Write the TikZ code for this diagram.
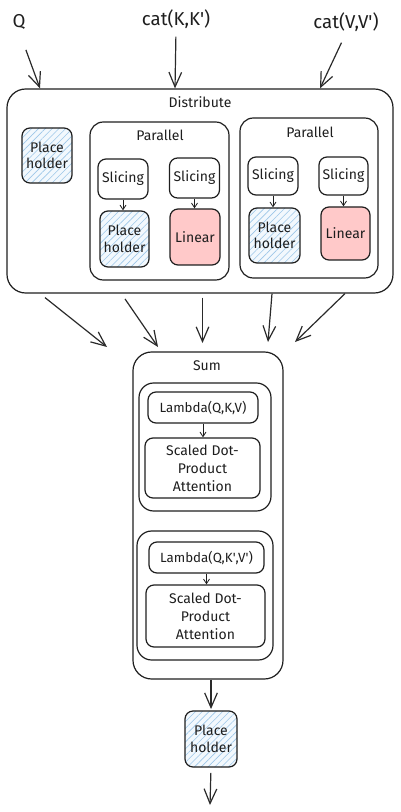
\documentclass[tikz,border=0pt]{standalone}
\usepackage{fontspec}
\setmainfont{Fira Sans}
\usetikzlibrary{arrows.meta,patterns.meta}
\definecolor{ink}{HTML}{1E1E1E}
\definecolor{hatch}{HTML}{9CC6E8}
\definecolor{phbg}{HTML}{F2F8FD}
\definecolor{linfill}{HTML}{FFC9C9}
\definecolor{arrowink}{HTML}{2A2A2A}
\tikzset{
  px/.style 2 args={minimum width=#1*0.75pt, minimum height=#2*0.75pt},
  box/.style={draw=ink, line width=0.9pt, rounded corners=6pt, inner sep=0pt,
    align=center, text=ink, font=\fontsize{10.5}{12.5}\selectfont},
  phbox/.style={box, preaction={fill=phbg},
    pattern={Lines[angle=45,distance=3.6pt,line width=0.45pt]}, pattern color=hatch},
  linbox/.style={box, fill=linfill},
  container/.style={draw=ink, line width=0.9pt, rounded corners=#1, inner sep=0pt},
  title/.style={text=ink, font=\fontsize{10.5}{12}\selectfont, inner sep=1pt},
  biglabel/.style={text=ink, font=\fontsize{14}{16}\selectfont, inner sep=1pt},
  bigarr/.style={draw=arrowink, line width=0.9pt,
    -{Straight Barb[length=11pt,width=9.5pt,line width=0.9pt]}},
  smallarr/.style={draw=ink, line width=0.6pt,
    -{Straight Barb[length=3.5pt,width=4.5pt,line width=0.6pt]}}
}
\begin{document}
\begin{tikzpicture}[x=0.75pt,y=-0.75pt]
\useasboundingbox (0,0) rectangle (400,812);

% input labels
\node[biglabel] (q) at (19,22) {Q};
\node[biglabel] (catk) at (176,19) {cat(K,K\textquotesingle)};
\node[biglabel] (catv) at (346,22) {cat(V,V\textquotesingle)};

% Distribute container
\node[container=14pt, px={386}{204}] (dist) at (200,191) {};
\node[title] (disttitle) at (200,102) {Distribute};

\node[phbox, px={50}{55}] (ph0) at (47,155.5) {Place\\holder};

% Parallel 1
\node[container=10pt, px={139}{158}] (par1) at (159.5,201) {};
\node[title] (par1title) at (160,135) {Parallel};
\node[box, px={50}{40}] (sl1) at (123,179) {Slicing};
\node[box, px={50}{40}] (sl2) at (194.5,178) {Slicing};
\node[phbox, px={49}{56}] (ph1) at (124.5,239) {Place\\holder};
\node[linbox, px={50}{56}] (lin1) at (195,237) {Linear};

% Parallel 2
\node[container=10pt, px={138}{160}] (par2) at (309,198) {};
\node[title] (par2title) at (310,132) {Parallel};
\node[box, px={50}{38}] (sl3) at (273,176) {Slicing};
\node[box, px={49}{38}] (sl4) at (343.5,176) {Slicing};
\node[phbox, px={51}{55}] (ph2) at (274.5,235.5) {Place\\holder};
\node[linbox, px={49}{53}] (lin2) at (345.5,233.5) {Linear};

% Sum container
\node[container=14pt, px={150}{327}] (sum) at (208,515.5) {};
\node[title] (sumtitle) at (207,366) {Sum};

\node[container=11pt, px={132}{128}] (in1) at (205,447) {};
\node[box, px={110}{31}, font=\fontsize{10}{12}\selectfont] (lam1) at (203,407.5) {Lambda(Q,K,V)};
\node[box, px={115}{60}, font=\fontsize{10.5}{13.5}\selectfont] (sdp1) at (202.5,468) {Scaled Dot-\\Product\\Attention};

\node[container=11pt, px={136}{129}] (in2) at (205,595.5) {};
\node[box, px={115}{31}, font=\fontsize{10}{12}\selectfont] (lam2) at (206.5,557.5) {Lambda(Q,K\textquotesingle,V\textquotesingle)};
\node[box, px={119}{62}, font=\fontsize{10.5}{13.5}\selectfont] (sdp2) at (205.5,616) {Scaled Dot-\\Product\\Attention};

% output placeholder
\node[phbox, px={52}{56}] (ph3) at (211,739) {Place\\holder};
\coordinate (out) at (210,805);

% free arrow ends above Sum
\coordinate (e1) at (107,347);
\coordinate (e2) at (158,347);
\coordinate (e3) at (202.5,343);
\coordinate (e4) at (268,342);
\coordinate (e5) at (295,342);

% input arrows
\draw[bigarr, shorten <=15pt] (q.south) -- (dist.north -| 40,0);
\draw[bigarr, shorten <=5pt] (catk.south) -- (dist.north -| 175,0);
\draw[bigarr, shorten <=8pt] (catv.south) -- (dist.north -| 320,0);

% internal small arrows
\draw[smallarr] (sl1.south) -- (ph1.north -| sl1.south);
\draw[smallarr] (sl2.south) -- (lin1.north -| sl2.south);
\draw[smallarr] (sl3.south) -- (ph2.north -| sl3.south);
\draw[smallarr] (sl4.south) -- (lin2.north -| sl4.south);
\draw[smallarr] (lam1.south) -- (sdp1.north -| lam1.south);
\draw[smallarr] (lam2.south) -- (sdp2.north -| lam2.south);

% Distribute -> Sum
\draw[bigarr] ([yshift=-3pt]dist.south -| 45,0) -- (e1);
\draw[bigarr] ([yshift=-4pt]dist.south -| 125,0) -- (e2);
\draw[bigarr] ([yshift=-3pt]dist.south -| 202.5,0) -- (e3);
\draw[bigarr] (dist.south -| 272,0) -- (e4);
\draw[bigarr] (dist.south -| 345,0) -- (e5);

% Sum -> placeholder -> out
\draw[bigarr, shorten >=1pt] (sum.south -| ph3.north) -- (ph3.north);
\draw[bigarr, shorten <=4pt] (ph3.south) -- (out);
\end{tikzpicture}
\end{document}
